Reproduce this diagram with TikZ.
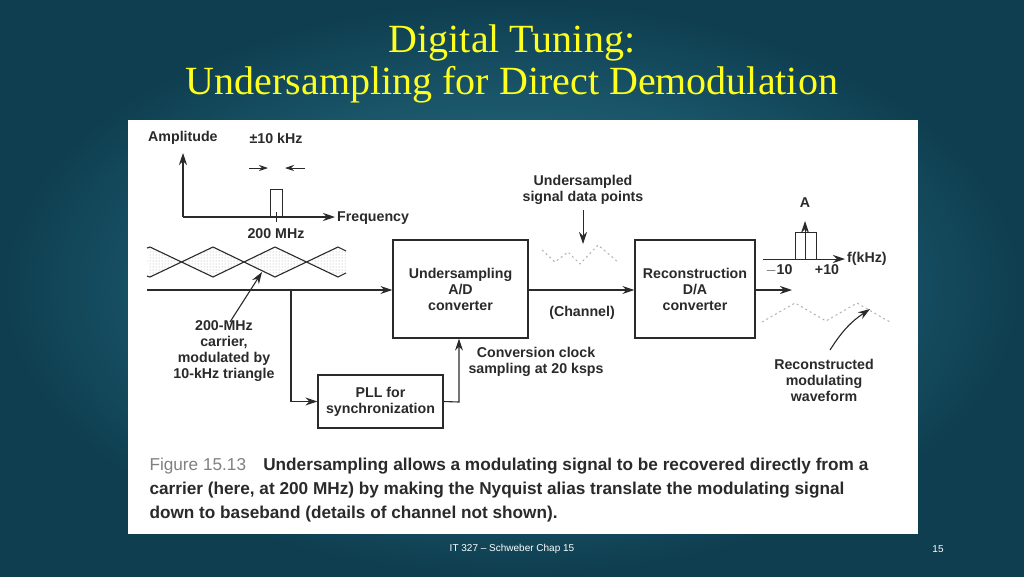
\documentclass[tikz,border=0pt]{standalone}
\usepackage{fontspec}
\setmainfont{Liberation Sans}
\newfontfamily\ttl{Liberation Serif}
\usetikzlibrary{arrows.meta,patterns}
\definecolor{bgc}{HTML}{1F7790}
\definecolor{bge}{HTML}{0E3E50}
\definecolor{tyel}{HTML}{FFFF1E}
\definecolor{ink}{HTML}{2A2A2A}
\begin{document}
\begin{tikzpicture}[x=1pt,y=-1pt,
  box/.style={draw=ink,line width=1.2pt,inner sep=0pt},
  lbl/.style={text=ink,font=\fontsize{14.2}{16}\selectfont\bfseries,align=center,inner sep=1pt},
  ln/.style={draw=ink,line width=1.1pt},
  arr/.style={ln,-{Stealth[length=12pt,width=8pt]}},
  dots/.style={draw=gray!60,line width=1pt,dash pattern=on 2pt off 3pt}]
\useasboundingbox (0,0) rectangle (1024,576);
\shade[inner color=bgc!92!white, outer color=bge] (0,0) rectangle (1024,576);
\node[text=tyel,font=\ttl\fontsize{40}{42}\selectfont,align=center] (title) at (512,64) {Digital Tuning:\\Undersampling for Direct Demodulation};
\fill[white] (128,120) rectangle (918,534);
% input spectrum
\node[lbl,anchor=west] (amp) at (147,138) {Amplitude};
\node[lbl] (pm) at (276,138) {±10 kHz};
\coordinate (o) at (183,217);
\coordinate (ay) at (183,153);
\coordinate (ax) at (335,217);
\draw[arr] (o) -- (ay);
\draw[arr] (o) -- (ax);
\node[lbl,anchor=west] (freq) at (336,218) {Frequency};
\draw[ln,line width=1pt] (270,217) -- (270,189) -- (282,189) -- (282,217);
\draw[ln,line width=1pt] (276,212) -- (276,222);
\node[lbl] (mhz) at (276,234) {200 MHz};
\coordinate (a1) at (249,168); \coordinate (a1e) at (268,168);
\coordinate (a2) at (305,168); \coordinate (a2e) at (285,168);
\draw[ln,-{Stealth[length=9pt,width=6pt]},line width=0.9pt] (a1) -- (a1e);
\draw[ln,-{Stealth[length=9pt,width=6pt]},line width=0.9pt] (a2) -- (a2e);
% modulated carrier
\fill[pattern=dots,pattern color=gray!70] (147,262) -- (150,247) -- (181,262) -- (213,247) -- (244,262) -- (275,247) -- (306,262) -- (338,247) -- (346,251) -- (346,273) -- (338,277) -- (306,262) -- (275,277) -- (244,262) -- (213,277) -- (181,262) -- (150,277) -- cycle;
\draw[ln] (147,248) -- (150,247) -- (213,277) -- (275,247) -- (338,277) -- (346,273);
\draw[ln] (147,276) -- (150,277) -- (213,247) -- (275,277) -- (338,247) -- (346,251);
% blocks
\node[box,minimum width=135pt,minimum height=98pt] (ad) at (460.5,289) {};
\node[lbl] (adt) at (460.5,289) {Undersampling\\A/D\\converter};
\node[box,minimum width=125pt,minimum height=53pt] (pll) at (380.5,401.5) {};
\node[lbl] (pllt) at (380.5,401.5) {PLL for\\synchronization};
\node[box,minimum width=120pt,minimum height=98pt] (da) at (695,289) {};
\node[lbl] (dat) at (695,289) {Reconstruction\\D/A\\converter};
\coordinate (in) at (147,290);
\coordinate (br) at (291,290);
\draw[arr] (in) -- (in -| ad.west);
\draw[arr] (br) |- (pll.west);
\coordinate (pc) at (459,402);
\draw[arr] (pll.east) -- (pc) -- (pc |- ad.south);
\draw[arr] (ad.east |- in) -- (da.west |- in);
\coordinate (out) at (792,290);
\draw[arr] (da.east |- in) -- (out);
\node[lbl] (chan) at (582,313) {(Channel)};
\node[lbl] (clk) at (536,362) {Conversion clock\\sampling at 20 ksps};
\node[lbl] (car) at (224,351) {200-MHz\\carrier,\\modulated by\\10-kHz triangle};
\coordinate (c1) at (230,322); \coordinate (c2) at (262,272);
\draw[arr] (c1) -- (c2);
% undersampled points
\node[lbl] (us) at (583,190) {Undersampled\\signal data points};
\coordinate (u1) at (583,210); \coordinate (u2) at (583,244);
\draw[arr,line width=0.9pt] (u1) -- (u2);
\draw[dots] (542,250) -- (555,262) -- (568,252) -- (580,264) -- (598,245) -- (618,262);
% output spectrum
\coordinate (so) at (763,259); \coordinate (sx) at (845,259); \coordinate (sy) at (805,221);
\draw[arr,line width=1pt] (so) -- (sx);
\draw[arr,line width=1pt] (805,259) -- (sy);
\draw[ln,line width=1pt] (795,259) -- (795,232) -- (816,232) -- (816,259);
\node[lbl] (A) at (805,203) {A};
\node[lbl,anchor=west] (fk) at (846,259) {f(kHz)};
\node[lbl] (m10) at (779,270) {$-$10};
\node[lbl] (p10) at (827,270) {+10};
% reconstructed
\draw[dots] (762,322) -- (795,303) -- (826,321) -- (857,303) -- (890,322);
\coordinate (r1) at (830,350); \coordinate (r2) at (870,309);
\draw[arr] (r1) to[bend left=12] (r2);
\node[lbl] (rec) at (824,380) {Reconstructed\\modulating\\waveform};
% caption
\node[anchor=west,text=ink,font=\fontsize{17.2}{24}\selectfont,align=left] (cap) at (146,490) {{\color{gray}Figure 15.13}\quad\bfseries Undersampling allows a modulating signal to be recovered directly from a\\\bfseries carrier (here, at 200 MHz) by making the Nyquist alias translate the modulating signal\\\bfseries down to baseband (details of channel not shown).};
% footer
\node[text=white,font=\fontsize{10}{12}\selectfont] (ft) at (512,549) {IT 327 -- Schweber Chap 15};
\node[text=white,font=\fontsize{10}{12}\selectfont] (pg) at (938,549) {15};
\end{tikzpicture}
\end{document}
